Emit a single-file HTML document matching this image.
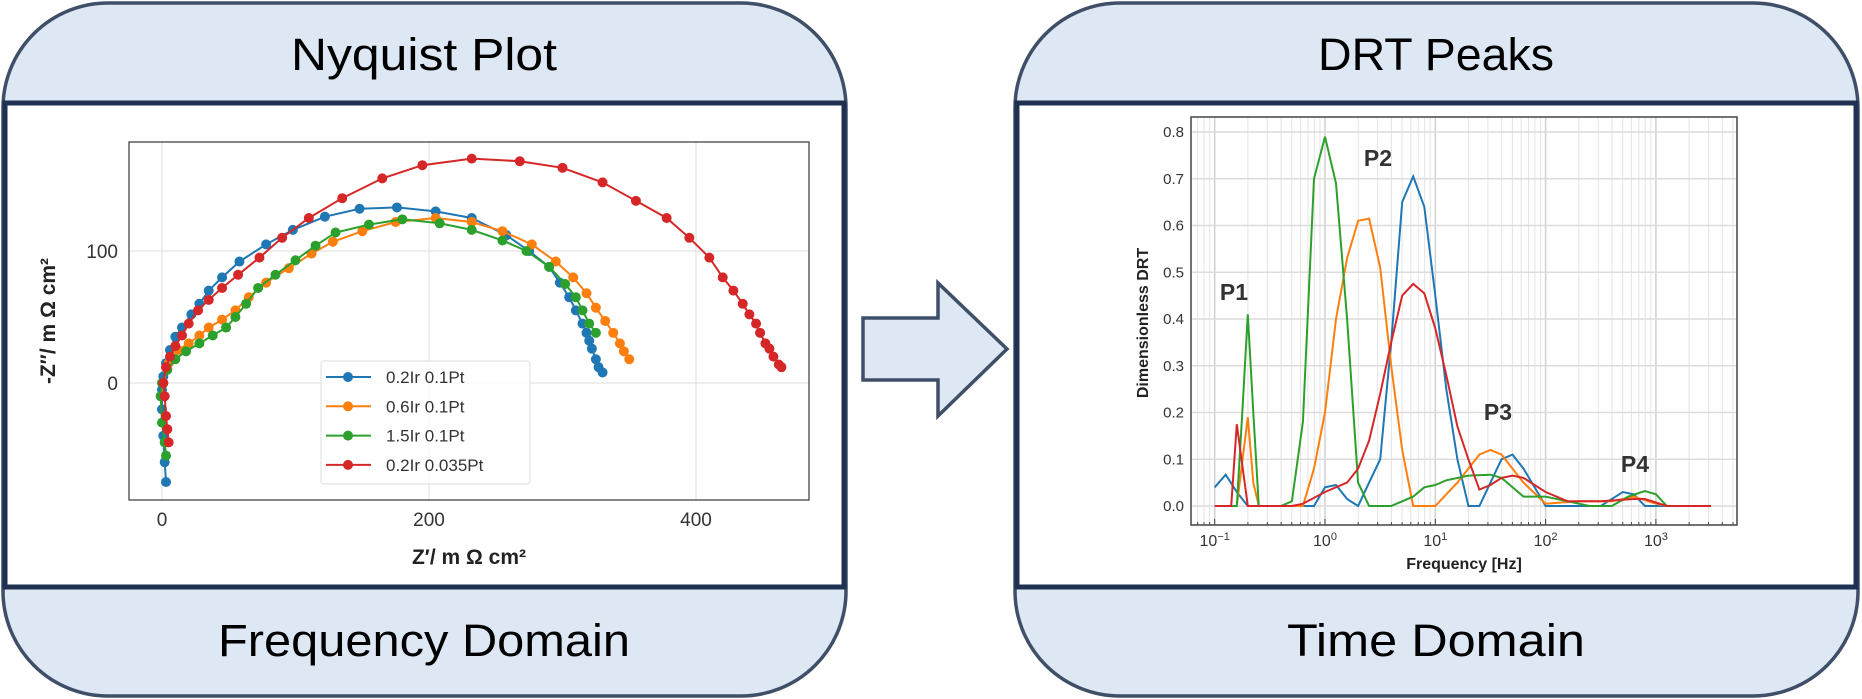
<!DOCTYPE html>
<html><head><meta charset="utf-8"><style>html,body{margin:0;padding:0;background:#fff}svg{display:block}</style></head>
<body>
<svg id="s" width="1862" height="699" viewBox="0 0 1862 699" xmlns="http://www.w3.org/2000/svg" font-family="Liberation Sans, sans-serif">
<rect x="3" y="3" width="843" height="693" rx="105" fill="#dde8f4" stroke="#3f4f68" stroke-width="3.5"/>
<rect x="5" y="103" width="839" height="484" fill="#fff" stroke="#1f3050" stroke-width="5"/>
<text x="424" y="70" text-anchor="middle" font-size="45" textLength="266" lengthAdjust="spacingAndGlyphs">Nyquist Plot</text>
<text x="424" y="656" text-anchor="middle" font-size="45" textLength="412" lengthAdjust="spacingAndGlyphs">Frequency Domain</text>
<rect x="1015" y="3" width="843" height="693" rx="105" fill="#dde8f4" stroke="#3f4f68" stroke-width="3.5"/>
<rect x="1017" y="103" width="839" height="484" fill="#fff" stroke="#1f3050" stroke-width="5"/>
<text x="1436" y="70" text-anchor="middle" font-size="45" textLength="236" lengthAdjust="spacingAndGlyphs">DRT Peaks</text>
<text x="1436" y="656" text-anchor="middle" font-size="45" textLength="298" lengthAdjust="spacingAndGlyphs">Time Domain</text>
<polygon points="863,318 938,318 938,283 1007,349 938,416 938,380 863,380" fill="#dde8f4" stroke="#3f4f68" stroke-width="3.5" stroke-linejoin="miter"/>
<g id="ny"></g>
<g id="drt"></g>
</svg>
<script>
var NS="http://www.w3.org/2000/svg";
function el(p,t,a,txt){var e=document.createElementNS(NS,t);for(var k in a)e.setAttribute(k,a[k]);if(txt!==undefined)e.textContent=txt;p.appendChild(e);return e;}
var C={b:"#1f77b4",o:"#ff7f0e",g:"#2ca02c",r:"#d62728"};
var ny=document.getElementById("ny");
function nx(x){return 162+x*267/200;} function nyy(y){return 383-y*132/100;}
[0,200,400].forEach(function(v){el(ny,"line",{x1:nx(v),x2:nx(v),y1:142,y2:500,stroke:"#e3e3e3","stroke-width":1.2});
 el(ny,"text",{x:nx(v),y:526,"text-anchor":"middle","font-size":19,fill:"#333"},v);});
[0,100].forEach(function(v){el(ny,"line",{x1:129,x2:809,y1:nyy(v),y2:nyy(v),stroke:"#e3e3e3","stroke-width":1.2});
 el(ny,"text",{x:118,y:nyy(v)+7,"text-anchor":"end","font-size":19,fill:"#333"},v);});
el(ny,"rect",{x:129,y:142,width:680,height:358,fill:"none",stroke:"#444","stroke-width":1.3});
var N={
b:[[3,-75],[2,-60],[1,-40],[0,-20],[0,-5],[1,5],[3,15],[6,25],[10,35],[15,42],[22,52],[28,60],[35,70],[45,80],[58,92],[78,105],[98,116],[122,126],[148,132],[176,133],[205,130],[232,125],[258,112],[275,100],[290,88],[298,76],[305,65],[310,55],[315,45],[318,38],[320,32],[322,26],[325,18],[327,12],[330,8]],
o:[[0,-10],[1,0],[5,15],[12,25],[20,30],[28,36],[35,42],[45,48],[55,55],[65,65],[78,76],[95,87],[112,98],[128,107],[150,115],[175,122],[205,125],[232,122],[255,115],[277,105],[295,92],[308,80],[318,68],[325,57],[332,47],[338,38],[343,30],[346,24],[350,18]],
g:[[3,-55],[2,-45],[0,-30],[-1,-10],[0,0],[4,10],[10,18],[18,24],[28,30],[38,36],[48,42],[55,50],[63,60],[72,72],[85,82],[100,93],[115,104],[130,114],[155,120],[180,124],[208,121],[232,116],[255,108],[273,100],[290,88],[302,75],[310,65],[315,55],[320,45],[325,38]],
r:[[5,-45],[4,-35],[3,-25],[2,-10],[1,0],[3,12],[6,20],[10,28],[15,36],[20,45],[27,55],[35,63],[45,72],[57,82],[73,95],[90,110],[110,125],[135,140],[165,155],[195,165],[232,170],[268,168],[300,163],[330,152],[355,138],[378,125],[395,110],[410,95],[420,80],[428,70],[435,60],[440,52],[445,45],[448,38],[452,30],[455,26],[458,20],[462,14],[464,12]]};
["b","o","g","r"].forEach(function(k){var pts=N[k].map(function(p){return nx(p[0]).toFixed(1)+","+nyy(p[1]).toFixed(1)}).join(" ");
 el(ny,"polyline",{points:pts,fill:"none",stroke:C[k],"stroke-width":2});
 N[k].forEach(function(p){el(ny,"circle",{cx:nx(p[0]),cy:nyy(p[1]),r:5,fill:C[k]});});});
el(ny,"rect",{x:321,y:361,width:209,height:123,fill:"#fff","fill-opacity":0.85,stroke:"#ddd",rx:3});
var lab=["0.2Ir 0.1Pt","0.6Ir 0.1Pt","1.5Ir 0.1Pt","0.2Ir 0.035Pt"];
["b","o","g","r"].forEach(function(k,i){var y=377+i*29.3;el(ny,"line",{x1:326,x2:371,y1:y,y2:y,stroke:C[k],"stroke-width":2});
 el(ny,"circle",{cx:348,cy:y,r:5,fill:C[k]});el(ny,"text",{x:386,y:y+6,"font-size":17,fill:"#333"},lab[i]);});
el(ny,"text",{x:469,y:564,"text-anchor":"middle","font-size":21,"font-weight":"bold",fill:"#222"},"Z′/ m Ω cm²");
el(ny,"text",{x:0,y:0,"text-anchor":"middle","font-size":21,"font-weight":"bold",fill:"#222",transform:"translate(55,321) rotate(-90)"},"-Z′′/ m Ω cm²");
var d=document.getElementById("drt");
function dx(l){return 1325+l*110.3;} function dy(v){return 506-v*467.5;}
var x0=1191,x1=1737,y0=117,y1=525;
for(var dec=-2;dec<=3;dec++)for(var m=1;m<10;m++){var l=dec+Math.log10(m);var X=dx(l);if(X<x0||X>x1)continue;
 el(d,"line",{x1:X,x2:X,y1:y0,y2:y1,stroke:m==1?"#d0d0d0":"#e4e4e4","stroke-width":m==1?1.5:1});
 el(d,"line",{x1:X,x2:X,y1:y1,y2:y1-(m==1?6:3),stroke:"#444"});}
for(var i=0;i<=8;i++){var Y=dy(i/10);el(d,"line",{x1:x0,x2:x1,y1:Y,y2:Y,stroke:"#dcdcdc","stroke-width":1.5});
 el(d,"text",{x:1184,y:Y+5,"text-anchor":"end","font-size":15,fill:"#333"},(i/10).toFixed(1));}
for(var dec=-1;dec<=3;dec++){var t=el(d,"text",{x:dx(dec),y:546,"text-anchor":"middle","font-size":16,fill:"#333"},"10");
 el(t,"tspan",{dy:-6,"font-size":11},dec==-1?"−1":dec);}
el(d,"rect",{x:x0,y:y0,width:x1-x0,height:y1-y0,fill:"none",stroke:"#444","stroke-width":1.5});
var D={
b:[[-1,0.04],[-0.9,0.067],[-0.8,0.03],[-0.7,0],[-0.5,0],[-0.1,0],[0,0.04],[0.1,0.045],[0.2,0.015],[0.3,0],[0.4,0.05],[0.5,0.1],[0.6,0.35],[0.7,0.65],[0.8,0.705],[0.9,0.64],[1.0,0.45],[1.1,0.25],[1.2,0.1],[1.3,0],[1.4,0],[1.5,0.05],[1.6,0.1],[1.7,0.11],[1.8,0.08],[1.9,0.04],[2.0,0],[2.5,0],[2.7,0.03],[2.8,0.025],[2.9,0],[3.1,0],[3.5,0]],
o:[[-1,0],[-0.8,0],[-0.7,0.19],[-0.65,0.05],[-0.6,0],[-0.2,0],[-0.1,0.08],[0,0.2],[0.1,0.4],[0.2,0.53],[0.3,0.61],[0.4,0.615],[0.5,0.51],[0.6,0.3],[0.7,0.12],[0.8,0],[1.0,0],[1.2,0.05],[1.4,0.11],[1.5,0.12],[1.6,0.11],[1.7,0.08],[1.8,0.05],[2.0,0.005],[2.3,0.01],[2.6,0.01],[2.8,0.02],[3.0,0.005],[3.1,0],[3.5,0]],
g:[[-1,0],[-0.8,0],[-0.75,0.2],[-0.7,0.41],[-0.65,0.2],[-0.6,0],[-0.4,0],[-0.3,0.01],[-0.2,0.18],[-0.1,0.7],[0,0.79],[0.1,0.69],[0.2,0.4],[0.3,0.05],[0.4,0],[0.6,0],[0.8,0.02],[0.9,0.04],[1.0,0.045],[1.1,0.055],[1.3,0.065],[1.5,0.067],[1.6,0.06],[1.7,0.04],[1.8,0.02],[2.0,0.02],[2.2,0.01],[2.4,0],[2.6,0],[2.75,0.02],[2.9,0.032],[3.0,0.025],[3.1,0],[3.5,0]],
r:[[-1,0],[-0.85,0],[-0.8,0.175],[-0.7,0],[-0.3,0],[-0.2,0.005],[0,0.03],[0.2,0.05],[0.3,0.08],[0.4,0.14],[0.5,0.24],[0.6,0.35],[0.7,0.45],[0.8,0.475],[0.9,0.455],[1.0,0.38],[1.1,0.28],[1.2,0.17],[1.3,0.1],[1.4,0.035],[1.5,0.045],[1.6,0.06],[1.7,0.065],[1.8,0.06],[1.9,0.045],[2.0,0.03],[2.2,0.01],[2.5,0.01],[2.8,0.015],[2.9,0.015],[3.1,0],[3.5,0]]};
["b","o","g","r"].forEach(function(k){el(d,"polyline",{points:D[k].map(function(p){return dx(p[0]).toFixed(1)+","+dy(p[1]).toFixed(1)}).join(" "),fill:"none",stroke:C[k],"stroke-width":2});});
[["P1",1234,300],["P2",1378,166],["P3",1498,420],["P4",1635,472]].forEach(function(p){el(d,"text",{x:p[1],y:p[2],"text-anchor":"middle","font-size":23,"font-weight":"bold",fill:"#333"},p[0]);});
el(d,"text",{x:1464,y:569,"text-anchor":"middle","font-size":16,"font-weight":"bold",fill:"#222"},"Frequency [Hz]");
el(d,"text",{x:0,y:0,"text-anchor":"middle","font-size":16,"font-weight":"bold",fill:"#222",transform:"translate(1148,323) rotate(-90)"},"Dimensionless DRT");
</script>
</body></html>
